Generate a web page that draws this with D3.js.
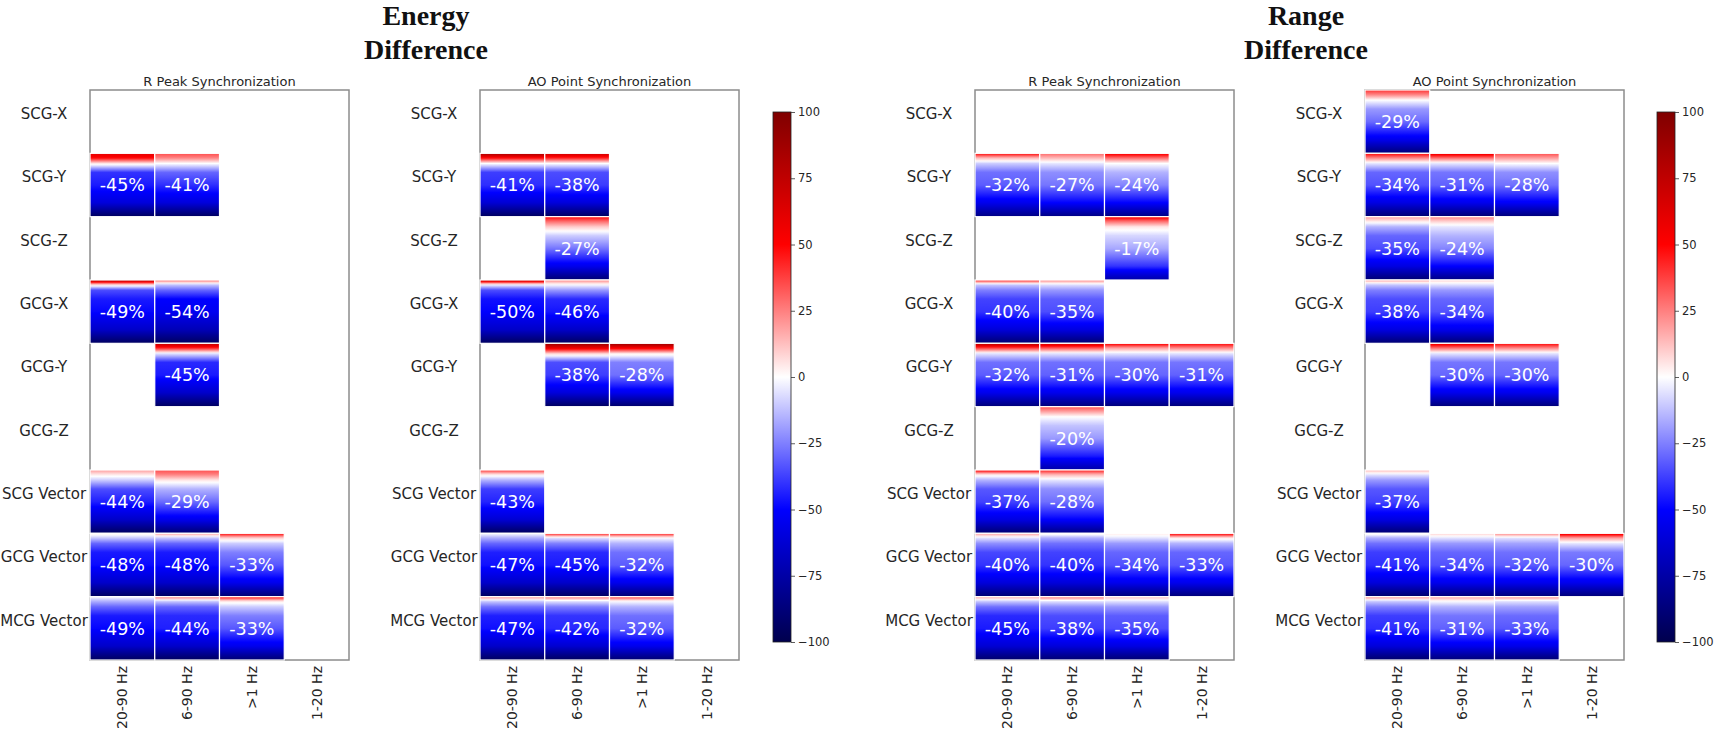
<!DOCTYPE html>
<html>
<head>
<meta charset="utf-8">
<script src="https://cdn.jsdelivr.net/npm/d3@7"></script>
<style>
  body { margin: 0; background: #fff; }
  svg { display: block; font-family: "DejaVu Sans", sans-serif; }
</style>
</head>
<body>
<div class="chart-area"></div>
<script>
const svgWidth = 1716
const svgHeight = 734

const ROWS = ['SCG-X', 'SCG-Y', 'SCG-Z', 'GCG-X', 'GCG-Y', 'GCG-Z', 'SCG Vector', 'GCG Vector', 'MCG Vector']
const BANDS = ['20-90 Hz', '6-90 Hz', '>1 Hz', '1-20 Hz']
const COLORBAR_TICKS = [100, 75, 50, 25, 0, -25, -50, -75, -100]

// positions (top -> bottom of a cell) of the sorted values given in q, q[4] is the median shown
const QPOS = [0, 0.07, 0.16, 0.3, 0.5, 0.78, 1]

const energyRPeak = [
  { row: 'SCG-Y', band: '20-90 Hz', q: [60, 50, 5, -40, -45, -60, -95] },
  { row: 'SCG-Y', band: '6-90 Hz', q: [35, 25, 0, -30, -41, -60, -95] },
  { row: 'GCG-X', band: '20-90 Hz', q: [85, 10, -35, -45, -49, -65, -95] },
  { row: 'GCG-X', band: '6-90 Hz', q: [30, -10, -30, -50, -54, -70, -95] },
  { row: 'GCG-Y', band: '6-90 Hz', q: [75, 45, -5, -42, -45, -65, -95] },
  { row: 'SCG Vector', band: '20-90 Hz', q: [20, 5, -10, -35, -44, -65, -95] },
  { row: 'SCG Vector', band: '6-90 Hz', q: [35, 25, 5, -15, -29, -55, -90] },
  { row: 'GCG Vector', band: '20-90 Hz', q: [5, -10, -30, -45, -48, -65, -95] },
  { row: 'GCG Vector', band: '6-90 Hz', q: [20, -10, -30, -45, -48, -65, -95] },
  { row: 'GCG Vector', band: '>1 Hz', q: [50, 10, -10, -25, -33, -55, -90] },
  { row: 'MCG Vector', band: '20-90 Hz', q: [0, -15, -30, -45, -49, -65, -95] },
  { row: 'MCG Vector', band: '6-90 Hz', q: [30, -10, -30, -42, -44, -65, -95] },
  { row: 'MCG Vector', band: '>1 Hz', q: [50, 5, -10, -25, -33, -55, -90] },
]

const energyAO = [
  { row: 'SCG-Y', band: '20-90 Hz', q: [85, 50, 0, -38, -41, -62, -95] },
  { row: 'SCG-Y', band: '6-90 Hz', q: [70, 45, 0, -35, -38, -60, -95] },
  { row: 'SCG-Z', band: '6-90 Hz', q: [50, 30, 10, -10, -27, -55, -90] },
  { row: 'GCG-X', band: '20-90 Hz', q: [80, 0, -35, -47, -50, -65, -95] },
  { row: 'GCG-X', band: '6-90 Hz', q: [25, 0, -20, -42, -46, -65, -95] },
  { row: 'GCG-Y', band: '6-90 Hz', q: [90, 60, 10, -35, -38, -60, -95] },
  { row: 'GCG-Y', band: '>1 Hz', q: [90, 55, 5, -25, -28, -55, -92] },
  { row: 'SCG Vector', band: '20-90 Hz', q: [40, 5, -15, -38, -43, -62, -95] },
  { row: 'GCG Vector', band: '20-90 Hz', q: [0, -15, -30, -44, -47, -65, -95] },
  { row: 'GCG Vector', band: '6-90 Hz', q: [45, -5, -25, -42, -45, -65, -95] },
  { row: 'GCG Vector', band: '>1 Hz', q: [45, 0, -15, -28, -32, -55, -90] },
  { row: 'MCG Vector', band: '20-90 Hz', q: [25, -10, -28, -44, -47, -65, -95] },
  { row: 'MCG Vector', band: '6-90 Hz', q: [30, -5, -25, -40, -42, -63, -95] },
  { row: 'MCG Vector', band: '>1 Hz', q: [40, 0, -15, -28, -32, -55, -90] },
]

const rangeRPeak = [
  { row: 'SCG-Y', band: '20-90 Hz', q: [50, 15, -10, -28, -32, -55, -85] },
  { row: 'SCG-Y', band: '6-90 Hz', q: [30, 15, -5, -22, -27, -50, -85] },
  { row: 'SCG-Y', band: '>1 Hz', q: [55, 30, 0, -15, -24, -50, -85] },
  { row: 'SCG-Z', band: '>1 Hz', q: [55, 30, 5, -8, -17, -40, -75] },
  { row: 'GCG-X', band: '20-90 Hz', q: [45, -10, -25, -37, -40, -60, -90] },
  { row: 'GCG-X', band: '6-90 Hz', q: [25, -5, -20, -32, -35, -58, -90] },
  { row: 'GCG-Y', band: '20-90 Hz', q: [80, 40, -5, -28, -32, -55, -88] },
  { row: 'GCG-Y', band: '6-90 Hz', q: [70, 35, -5, -28, -31, -55, -88] },
  { row: 'GCG-Y', band: '>1 Hz', q: [55, 20, -5, -27, -30, -55, -88] },
  { row: 'GCG-Y', band: '1-20 Hz', q: [50, 25, -5, -27, -31, -55, -88] },
  { row: 'GCG-Z', band: '6-90 Hz', q: [35, 20, 0, -12, -20, -45, -75] },
  { row: 'SCG Vector', band: '20-90 Hz', q: [55, 5, -15, -33, -37, -58, -90] },
  { row: 'SCG Vector', band: '6-90 Hz', q: [45, 15, -5, -22, -28, -50, -85] },
  { row: 'GCG Vector', band: '20-90 Hz', q: [20, -5, -22, -36, -40, -60, -90] },
  { row: 'GCG Vector', band: '6-90 Hz', q: [5, -15, -28, -37, -40, -60, -90] },
  { row: 'GCG Vector', band: '>1 Hz', q: [5, -5, -20, -30, -34, -55, -88] },
  { row: 'GCG Vector', band: '1-20 Hz', q: [55, 5, -15, -30, -33, -55, -88] },
  { row: 'MCG Vector', band: '20-90 Hz', q: [20, -10, -28, -42, -45, -62, -92] },
  { row: 'MCG Vector', band: '6-90 Hz', q: [30, -5, -22, -35, -38, -60, -90] },
  { row: 'MCG Vector', band: '>1 Hz', q: [15, -5, -20, -32, -35, -58, -90] },
]

const rangeAO = [
  { row: 'SCG-X', band: '20-90 Hz', q: [40, 25, 0, -20, -29, -55, -88] },
  { row: 'SCG-Y', band: '20-90 Hz', q: [50, 25, -5, -30, -34, -58, -90] },
  { row: 'SCG-Y', band: '6-90 Hz', q: [60, 30, -5, -27, -31, -55, -90] },
  { row: 'SCG-Y', band: '>1 Hz', q: [35, 20, 0, -22, -28, -52, -88] },
  { row: 'SCG-Z', band: '20-90 Hz', q: [20, 5, -15, -30, -35, -58, -90] },
  { row: 'SCG-Z', band: '6-90 Hz', q: [25, 10, -5, -15, -24, -50, -85] },
  { row: 'GCG-X', band: '20-90 Hz', q: [20, -10, -25, -35, -38, -58, -90] },
  { row: 'GCG-X', band: '6-90 Hz', q: [10, -5, -20, -30, -34, -55, -90] },
  { row: 'GCG-Y', band: '6-90 Hz', q: [60, 30, -5, -27, -30, -55, -88] },
  { row: 'GCG-Y', band: '>1 Hz', q: [50, 25, -5, -27, -30, -55, -88] },
  { row: 'SCG Vector', band: '20-90 Hz', q: [15, -5, -20, -33, -37, -58, -90] },
  { row: 'GCG Vector', band: '20-90 Hz', q: [5, -15, -28, -38, -41, -60, -92] },
  { row: 'GCG Vector', band: '6-90 Hz', q: [10, -5, -20, -30, -34, -55, -88] },
  { row: 'GCG Vector', band: '>1 Hz', q: [25, -5, -18, -28, -32, -55, -88] },
  { row: 'GCG Vector', band: '1-20 Hz', q: [60, 20, -5, -26, -30, -55, -88] },
  { row: 'MCG Vector', band: '20-90 Hz', q: [25, -10, -25, -38, -41, -60, -92] },
  { row: 'MCG Vector', band: '6-90 Hz', q: [20, 0, -15, -27, -31, -55, -88] },
  { row: 'MCG Vector', band: '>1 Hz', q: [25, -5, -18, -29, -33, -56, -90] },
]

// matplotlib "seismic"
const seismic = d3.scaleLinear()
  .domain([-100, -50, 0, 50, 100])
  .range(['#00004d', '#0000ff', '#ffffff', '#ff0000', '#800000'])
  .clamp(true)

const panelW = 259
const panelTop = 90
const panelBottom = 660

const GROUPS = [
  { title: ['Energy', 'Difference'], cx: 426, colorbarX: 773 },
  { title: ['Range', 'Difference'], cx: 1306, colorbarX: 1657 },
]
const PANELS = [
  { title: 'R Peak Synchronization', left: 90, cells: energyRPeak },
  { title: 'AO Point Synchronization', left: 480, cells: energyAO },
  { title: 'R Peak Synchronization', left: 975, cells: rangeRPeak },
  { title: 'AO Point Synchronization', left: 1365, cells: rangeAO },
]

var svg = d3.select('div.chart-area')
  .append('svg')
  .attr('xmlns', 'http://www.w3.org/2000/svg')
  .attr('width', svgWidth)
  .attr('height', svgHeight)

var defs = svg.append('defs')

const y = d3.scaleBand().domain(ROWS).range([panelTop, panelBottom])

let gradId = 0

PANELS.forEach(panel => {
  const x = d3.scaleBand().domain(BANDS).range([panel.left, panel.left + panelW])
  const g = svg.append('g')

  g.append('text')
    .attr('x', panel.left + panelW / 2)
    .attr('y', 86)
    .attr('text-anchor', 'middle')
    .attr('font-size', 13)
    .attr('fill', '#262626')
    .text(panel.title)

  g.append('rect')
    .attr('x', panel.left)
    .attr('y', panelTop)
    .attr('width', panelW)
    .attr('height', panelBottom - panelTop)
    .attr('fill', 'white')
    .attr('stroke', '#8c8c8c')
    .attr('stroke-width', 1.5)

  panel.cells.forEach(cell => {
    const id = 'cell-grad-' + (gradId++)
    const pos = d3.scaleLinear().domain(QPOS).range(cell.q)
    const grad = defs.append('linearGradient')
      .attr('id', id)
      .attr('x1', 0).attr('y1', 0).attr('x2', 0).attr('y2', 1)
    d3.range(0, 1.0001, 0.02).forEach(t => {
      grad.append('stop')
        .attr('offset', t)
        .attr('stop-color', seismic(pos(t)))
    })

    g.append('rect')
      .attr('x', x(cell.band))
      .attr('y', y(cell.row))
      .attr('width', x.bandwidth())
      .attr('height', y.bandwidth())
      .attr('fill', `url(#${id})`)
      .attr('stroke', 'white')
      .attr('stroke-width', 1.2)

    g.append('text')
      .attr('x', x(cell.band) + x.bandwidth() / 2)
      .attr('y', y(cell.row) + y.bandwidth() / 2)
      .attr('dy', '0.36em')
      .attr('text-anchor', 'middle')
      .attr('font-size', 17.5)
      .attr('fill', 'white')
      .text(`${Math.round(cell.q[4])}%`)
  })

  // row labels
  g.selectAll('.row-label')
    .data(ROWS)
    .join('text')
    .attr('class', 'row-label')
    .attr('x', panel.left - 46)
    .attr('y', d => y(d) + y.bandwidth() / 2 - 8)
    .attr('dy', '0.36em')
    .attr('text-anchor', 'middle')
    .attr('font-size', 15)
    .attr('fill', '#262626')
    .text(d => d)

  // rotated band labels
  g.selectAll('.band-label')
    .data(BANDS)
    .join('text')
    .attr('class', 'band-label')
    .attr('transform', d => `translate(${x(d) + x.bandwidth() / 2},${panelBottom + 6}) rotate(-90)`)
    .attr('dy', '0.36em')
    .attr('text-anchor', 'end')
    .attr('font-size', 14)
    .attr('fill', '#262626')
    .text(d => d)
})

// group titles + colorbars
const cbTop = 112
const cbBottom = 642
const cbWidth = 18
const cbScale = d3.scaleLinear().domain([-100, 100]).range([cbBottom, cbTop])

const cbGrad = defs.append('linearGradient')
  .attr('id', 'cb-grad')
  .attr('x1', 0).attr('y1', 0).attr('x2', 0).attr('y2', 1)
d3.range(0, 1.0001, 0.05).forEach(t => {
  cbGrad.append('stop')
    .attr('offset', t)
    .attr('stop-color', seismic(cbScale.invert(cbTop + t * (cbBottom - cbTop))))
})

GROUPS.forEach(group => {
  svg.append('text')
    .attr('x', group.cx)
    .attr('font-family', '"Liberation Serif", "DejaVu Serif", serif')
    .attr('font-weight', 'bold')
    .attr('font-size', 28)
    .attr('text-anchor', 'middle')
    .attr('fill', '#111')
    .selectAll('tspan')
    .data(group.title)
    .join('tspan')
    .attr('x', group.cx)
    .attr('y', (d, i) => 25 + i * 34)
    .text(d => d)

  const cb = svg.append('g')
  cb.append('rect')
    .attr('x', group.colorbarX)
    .attr('y', cbTop)
    .attr('width', cbWidth)
    .attr('height', cbBottom - cbTop)
    .attr('fill', 'url(#cb-grad)')
    .attr('stroke', '#222')
    .attr('stroke-width', 0.8)

  const axis = cb.append('g')
    .attr('transform', `translate(${group.colorbarX + cbWidth},0)`)
    .call(d3.axisRight(cbScale).tickValues(COLORBAR_TICKS).tickSize(4).tickPadding(3))
  axis.select('.domain').remove()
  axis.selectAll('line').attr('stroke', '#333').attr('stroke-width', 0.8)
  axis.selectAll('text')
    .attr('font-family', '"DejaVu Sans", sans-serif')
    .attr('font-size', 11.5)
    .attr('fill', '#262626')
})
</script>
</body>
</html>
